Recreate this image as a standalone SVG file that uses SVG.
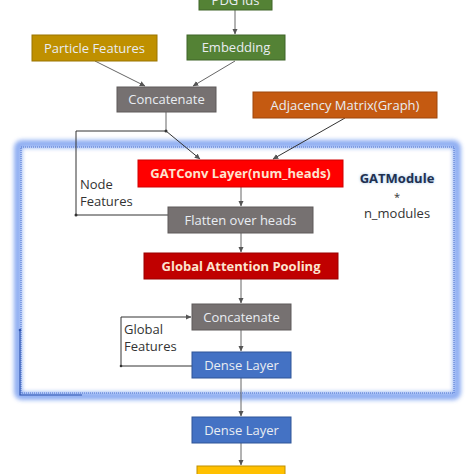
<svg xmlns="http://www.w3.org/2000/svg" width="474" height="474" viewBox="0 0 474 474">
<defs>
<marker id="ah" viewBox="0 0 8 8" refX="7" refY="4" markerWidth="6" markerHeight="6" orient="auto"><path d="M0,0.5 L7.5,4 L0,7.5 z" fill="#555"/></marker>
<filter id="glow" x="-10%" y="-10%" width="120%" height="120%"><feGaussianBlur stdDeviation="2.2"/></filter>
<filter id="tglow" x="-20%" y="-50%" width="140%" height="200%"><feGaussianBlur stdDeviation="1.5"/></filter>
</defs>
<style>
text{font-family:"Open Sans","Noto Sans",sans-serif;font-size:13px}
.c{text-anchor:middle}
.lt{fill:#e9edf2}
.bold{font-weight:bold}
.lbl{fill:#333}
.ln{stroke:#666;stroke-width:1;fill:none}
.lp{stroke:#333;stroke-width:1;fill:none}
</style>
<rect width="474" height="474" fill="#fff"/>
<g id="frame">
<rect x="18" y="144" width="439" height="252" rx="4" fill="none" stroke="#7da1f0" stroke-width="8" filter="url(#glow)" opacity="0.85"/>
<rect x="21" y="147" width="433" height="246" fill="none" stroke="#4a72d0" stroke-width="1" stroke-dasharray="1,1"/>
<path d="M20,330 V395 H82" fill="none" stroke="#2f55b0" stroke-width="1.2"/>
<circle cx="20" cy="330" r="1.3" fill="#2f55b0"/>
</g>
<g id="connectors">
<line class="ln" x1="235" y1="10" x2="235" y2="34" marker-end="url(#ah)"/>
<line class="ln" x1="95" y1="61" x2="145" y2="86" marker-end="url(#ah)"/>
<line class="ln" x1="235" y1="61" x2="193" y2="86" marker-end="url(#ah)"/>
<line class="ln" x1="166" y1="112" x2="166" y2="131"/>
<path class="lp" d="M166,131 H76 V215 H168"/>
<circle cx="166" cy="131" r="1.5" fill="#333"/>
<circle cx="76" cy="215" r="1.5" fill="#333"/>
<line class="lp" x1="166" y1="131" x2="200" y2="159" marker-end="url(#ah)"/>
<line class="lp" x1="345" y1="118" x2="273" y2="159" marker-end="url(#ah)"/>
<line class="ln" x1="241" y1="187" x2="241" y2="206" marker-end="url(#ah)"/>
<line class="ln" x1="241" y1="233" x2="241" y2="252" marker-end="url(#ah)"/>
<line class="ln" x1="241" y1="279" x2="241" y2="303" marker-end="url(#ah)"/>
<line class="ln" x1="241" y1="330" x2="241" y2="351" marker-end="url(#ah)"/>
<path class="lp" d="M192,366 H121 V317 H191" marker-end="url(#ah)"/>
<circle cx="121" cy="366" r="1.3" fill="#333"/>
<line class="ln" x1="241" y1="378" x2="241" y2="416" marker-end="url(#ah)"/>
<line class="ln" x1="241" y1="443" x2="241" y2="465" marker-end="url(#ah)"/>
</g>
<g id="pdg">
<rect x="199" y="-20" width="73" height="30" fill="#548235" stroke="#3f6428"/>
<text x="235.5" y="5" class="c lt">PDG Ids</text>
</g>
<g id="embedding">
<rect x="187" y="35" width="98" height="25" fill="#548235" stroke="#3f6428"/>
<text x="236" y="52" class="c lt">Embedding</text>
</g>
<g id="particle">
<rect x="32" y="35" width="125" height="26" fill="#bf9000" stroke="#9a7400"/>
<text x="94.5" y="53" class="c lt">Particle Features</text>
</g>
<g id="concat1">
<rect x="117" y="87" width="99" height="25" fill="#767171" stroke="#5e5a5a"/>
<text x="166.5" y="104" class="c lt">Concatenate</text>
</g>
<g id="adjacency">
<rect x="253" y="92" width="184" height="26" fill="#c55a11" stroke="#9e470c"/>
<text x="345" y="110" class="c lt">Adjacency Matrix(Graph)</text>
</g>
<g id="gatconv">
<rect x="138" y="160" width="205" height="27" fill="#ff0000" stroke="#d00000"/>
<text x="240.5" y="178" class="c bold" fill="#fde3cf">GATConv Layer(num_heads)</text>
</g>
<g id="nodefeat">
<text x="80" y="189" class="lbl">Node</text>
<text x="80" y="206" class="lbl">Features</text>
</g>
<g id="gatmodule">
<text x="397" y="183" class="c bold" fill="#9dc3e6" filter="url(#tglow)">GATModule</text>
<text x="397" y="183" class="c bold" fill="#1f3050">GATModule</text>
<text x="397" y="201" class="c" fill="#333" style="font-size:11px">*</text>
<text x="397" y="218" class="c" fill="#333">n_modules</text>
</g>
<g id="flatten">
<rect x="168" y="207" width="145" height="26" fill="#767171" stroke="#5e5a5a"/>
<text x="240.5" y="225" class="c lt">Flatten over heads</text>
</g>
<g id="gap">
<rect x="144" y="253" width="194" height="26" fill="#c00000" stroke="#9a0000"/>
<text x="241" y="271" class="c bold" fill="#fde3cf">Global Attention Pooling</text>
</g>
<g id="concat2">
<rect x="192" y="304" width="99" height="26" fill="#767171" stroke="#5e5a5a"/>
<text x="241.5" y="322" class="c lt">Concatenate</text>
</g>
<g id="globalfeat">
<text x="124" y="334" class="lbl">Global</text>
<text x="124" y="351" class="lbl">Features</text>
</g>
<g id="dense1">
<rect x="192" y="352" width="99" height="26" fill="#4472c4" stroke="#2f5597"/>
<text x="241.5" y="370" class="c lt">Dense Layer</text>
</g>
<g id="dense2">
<rect x="192" y="417" width="99" height="26" fill="#4472c4" stroke="#2f5597"/>
<text x="241.5" y="435" class="c lt">Dense Layer</text>
</g>
<g id="output">
<rect x="197" y="466" width="88" height="20" fill="#ffc000" stroke="#c09000"/>
</g>
</svg>
